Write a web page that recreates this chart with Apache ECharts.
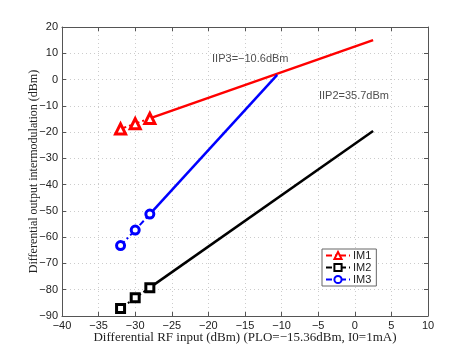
<!DOCTYPE html>
<html>
<head>
<meta charset="utf-8">
<script src="https://cdn.jsdelivr.net/npm/echarts@6/dist/echarts.min.js"></script>
<style>html,body{margin:0;padding:0;background:#fff;}#c{width:474px;height:355px;}</style>
</head>
<body>
<div id="c"></div>
<script>
// Measured points (input dBm)
const inputPts = [-32, -30, -28];
const im1Vals = [-18.8, -16.8, -14.8];
const im2Vals = [-87.1, -83.1, -79.2];
const im3Vals = [-63.2, -57.3, -51.2];
// Extrapolated lines: [x, y] endpoints
const im1Fit = [[-28, -14.8], [2.5, 15.0]];
const im2Fit = [[-28, -79.2], [2.5, -19.6]];
const im3Fit = [[-28, -51.2], [-10.6, 1.8]];
// Tick setup
const xTicks = {min: -40, max: 10, interval: 5};
const yTicks = {min: -90, max: 20, interval: 10};
// Annotations
const annotations = [
  {text: 'IIP3=\u221210.6dBm', x: -19.5, y: 7.8},
  {text: 'IIP2=35.7dBm', x: -4.9, y: -6.3}
];

const minus = v => String(v).replace('-', '\u2212');
const pts = vals => inputPts.map((x, i) => [x, vals[i]]);
const dashDot = [6, 3, 2, 3];

const chart = echarts.init(document.getElementById('c'));
const tickFont = {fontFamily: 'Liberation Sans', fontSize: 11, color: '#222'};
const axisLine = {show: true, onZero: false, lineStyle: {color: '#555', width: 1}};
const tick = {show: true, inside: true, length: 4, lineStyle: {color: '#555'}};

function markerSeries(name, vals, color, symbol, size) {
  return {
    name, type: 'line', data: pts(vals), symbol, symbolSize: size,
    lineStyle: {color, width: 2, type: dashDot},
    itemStyle: {color: '#fff', borderColor: color, borderWidth: 3},
    z: 5, animation: false
  };
}
function fitSeries(data, color) {
  return {type: 'line', data, symbol: 'none', lineStyle: {color, width: 2.5}, z: 3, animation: false, silent: true};
}

chart.setOption({
  animation: false,
  grid: {left: 62, right: 46, top: 27, bottom: 39},
  xAxis: [{
    type: 'value', min: xTicks.min, max: xTicks.max, interval: xTicks.interval,
    name: 'Differential RF input (dBm) (PLO=\u221215.36dBm, I0=1mA)',
    nameLocation: 'middle', nameGap: 15, nameMoveOverlap: false,
    nameTextStyle: {fontFamily: 'Liberation Serif', fontSize: 13, color: '#222', verticalAlign: 'top'},
    axisLine, axisTick: tick,
    axisLabel: Object.assign({margin: 4, formatter: minus}, tickFont),
    splitLine: {show: true, lineStyle: {color: '#ccc', type: [1, 3], width: 1}}
  }, {
    type: 'value', position: 'top', min: xTicks.min, max: xTicks.max, interval: xTicks.interval,
    axisLine, axisTick: tick,
    axisLabel: {show: false}, splitLine: {show: false}
  }],
  yAxis: [{
    type: 'value', min: yTicks.min, max: yTicks.max, interval: yTicks.interval,
    name: 'Differential output intermodulation (dBm)',
    nameLocation: 'middle', nameGap: 22, nameRotate: 90, nameMoveOverlap: false,
    nameTextStyle: {fontFamily: 'Liberation Serif', fontSize: 12, color: '#222'},
    axisLine, axisTick: tick,
    axisLabel: Object.assign({margin: 4, formatter: minus}, tickFont),
    splitLine: {show: true, lineStyle: {color: '#ccc', type: [1, 3], width: 1}}
  }, {
    type: 'value', position: 'right', min: yTicks.min, max: yTicks.max, interval: yTicks.interval,
    axisLine, axisTick: tick,
    axisLabel: {show: false}, splitLine: {show: false}
  }],
  legend: {
    data: ['IM1', 'IM2', 'IM3'], orient: 'vertical',
    left: 322, top: 249, padding: [1, 5, 1, 3], itemGap: 1,
    itemWidth: 24, itemHeight: 9,
    borderColor: '#666', borderWidth: 1, backgroundColor: '#fff',
    textStyle: {fontFamily: 'Liberation Sans', fontSize: 11, color: '#222', padding: [0, 0, 0, -2]}
  },
  series: [
    fitSeries(im1Fit, '#ff0000'),
    fitSeries(im3Fit, '#0000ff'),
    fitSeries(im2Fit, '#000000'),
    markerSeries('IM1', im1Vals, '#ff0000', 'triangle', 10),
    markerSeries('IM2', im2Vals, '#000000', 'rect', 8),
    markerSeries('IM3', im3Vals, '#0000ff', 'circle', 8),
    {
      type: 'scatter', symbolSize: 0, silent: true, z: 6,
      data: annotations.map(a => ({value: [a.x, a.y], label: {formatter: a.text}})),
      label: {show: true, position: 'right', distance: 0, fontFamily: 'Liberation Sans', fontSize: 11, color: '#222'}
    }
  ]
});
</script>
</body>
</html>
